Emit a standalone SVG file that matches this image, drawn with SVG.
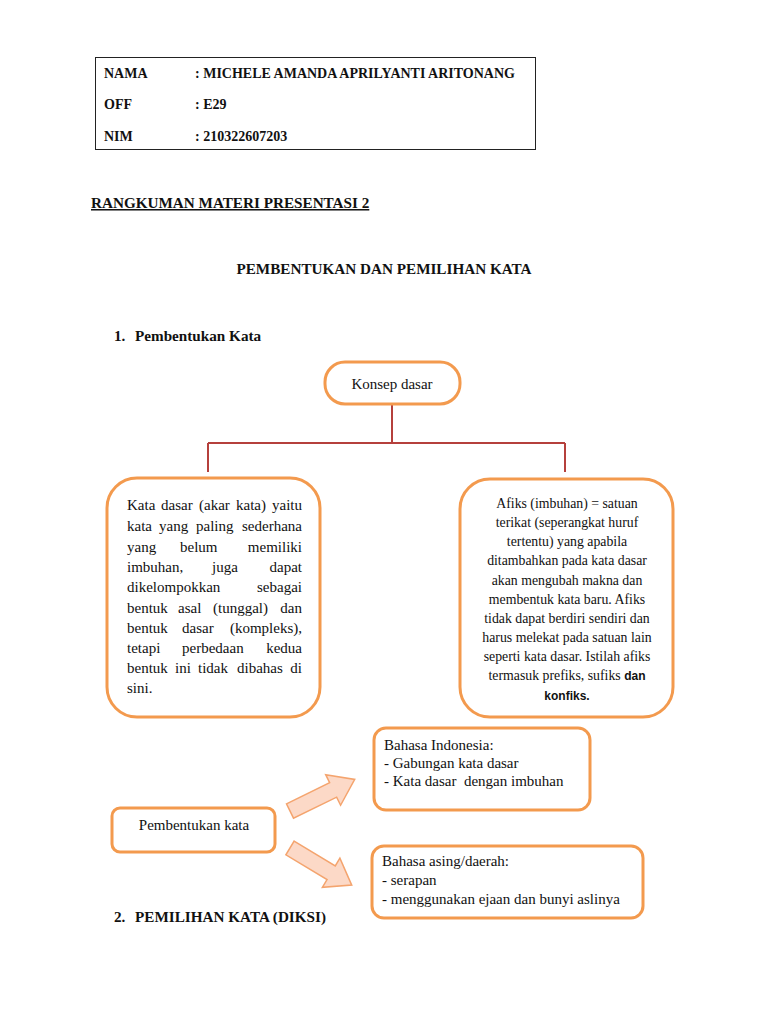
<svg xmlns="http://www.w3.org/2000/svg" width="768" height="1024" viewBox="0 0 768 1024">
<style>
.t{font-family:"Liberation Serif","Times New Roman",serif;fill:#111}
.b{font-weight:bold}
.h{font-size:14px}
.ti{font-size:15.2px}
.n{font-size:15px}
.s{font-size:13.8px}
.e{text-anchor:end}
.box{fill:#fff;stroke:#F39A4E;stroke-width:3}
.conn{fill:none;stroke:#B5403C;stroke-width:2}
.arr{fill:#FCD9C7;stroke:#F4A46E;stroke-width:1.5;stroke-linejoin:miter}
.sb{font-family:"Liberation Sans",Arial,sans-serif;font-weight:bold;font-size:12px}
</style>
<rect width="768" height="1024" fill="#fff"/>
<g id="header">
<rect x="95.5" y="57.5" width="440" height="92" fill="none" stroke="#222" stroke-width="1"/>
<text class="t b h" x="104" y="78">NAMA</text>
<text class="t b h" x="195" y="78">: MICHELE AMANDA APRILYANTI ARITONANG</text>
<text class="t b h" x="104" y="109">OFF</text>
<text class="t b h" x="195" y="109">: E29</text>
<text class="t b h" x="104" y="141">NIM</text>
<text class="t b h" x="195" y="141">: 210322607203</text>
</g>
<g id="titles">
<text class="t b ti" x="91" y="208" text-decoration="underline">RANGKUMAN MATERI PRESENTASI 2</text>
<text class="t b ti" x="384" y="274" text-anchor="middle">PEMBENTUKAN DAN PEMILIHAN KATA</text>
<text class="t b ti" x="114" y="341">1.</text>
<text class="t b ti" x="135" y="341">Pembentukan Kata</text>
<text class="t b ti" x="114" y="922">2.</text>
<text class="t b ti" x="135" y="922">PEMILIHAN KATA (DIKSI)</text>
</g>
<g id="connectors">
<path class="conn" d="M392 404 V443 M208 443 H565 M208 443 V472 M565 443 V472"/>
<polygon class="arr" points="0,-8 48,-8 48,-17 72,0 48,17 48,8 0,8" transform="translate(290,811) rotate(-26)"/>
<polygon class="arr" points="0,-8 48,-8 48,-17 72,0 48,17 48,8 0,8" transform="translate(290,848) rotate(31)"/>
</g>
<g id="konsep">
<rect class="box" x="325" y="362" width="135" height="42" rx="20"/>
<text class="t n" x="392" y="389" text-anchor="middle">Konsep dasar</text>
</g>
<g id="katadasar">
<rect class="box" x="107" y="478" width="213" height="239" rx="30"/>
<g class="t n">
<text x="127" y="510">Kata</text><text x="161" y="510">dasar</text><text x="199" y="510">(akar</text><text x="236" y="510">kata)</text><text class="e" x="302" y="510">yaitu</text>
<text x="127" y="531">kata</text><text x="159" y="531">yang</text><text x="196" y="531">paling</text><text class="e" x="302" y="531">sederhana</text>
<text x="127" y="552">yang</text><text x="180" y="552">belum</text><text class="e" x="302" y="552">memiliki</text>
<text x="127" y="572">imbuhan,</text><text x="212" y="572">juga</text><text class="e" x="302" y="572">dapat</text>
<text x="127" y="592">dikelompokkan</text><text class="e" x="302" y="592">sebagai</text>
<text x="127" y="613">bentuk</text><text x="178" y="613">asal</text><text x="213" y="613">(tunggal)</text><text class="e" x="302" y="613">dan</text>
<text x="127" y="633">bentuk</text><text x="182" y="633">dasar</text><text class="e" x="302" y="633">(kompleks),</text>
<text x="127" y="653">tetapi</text><text x="182" y="653">perbedaan</text><text class="e" x="302" y="653">kedua</text>
<text x="127" y="673">bentuk</text><text x="175" y="673">ini</text><text x="198" y="673">tidak</text><text x="237" y="673">dibahas</text><text class="e" x="302" y="673">di</text>
<text x="127" y="693">sini.</text>
</g>
</g>
<g id="afiks">
<rect class="box" x="460" y="479" width="213" height="238" rx="30"/>
<g class="t s" text-anchor="middle">
<text x="567" y="508">Afiks (imbuhan) = satuan</text>
<text x="567" y="527">terikat (seperangkat huruf</text>
<text x="567" y="546">tertentu) yang apabila</text>
<text x="567" y="565">ditambahkan pada kata dasar</text>
<text x="567" y="584.5">akan mengubah makna dan</text>
<text x="567" y="604">membentuk kata baru. Afiks</text>
<text x="567" y="623">tidak dapat berdiri sendiri dan</text>
<text x="567" y="642">harus melekat pada satuan lain</text>
<text x="567" y="661">seperti kata dasar. Istilah afiks</text>
<text x="567" y="680">termasuk prefiks, sufiks <tspan class="sb">dan</tspan></text>
<text class="sb" x="567" y="700">konfiks.</text>
</g>
</g>
<g id="bahasaindonesia">
<rect class="box" x="374" y="728" width="216" height="82" rx="12"/>
<text class="t n" x="384" y="750">Bahasa Indonesia:</text>
<text class="t n" x="384" y="768">- Gabungan kata dasar</text>
<text class="t n" x="384" y="786" xml:space="preserve">- Kata dasar  dengan imbuhan</text>
</g>
<g id="pembentukankata">
<rect class="box" x="112" y="808" width="163" height="44" rx="8"/>
<text class="t n" x="194" y="830" text-anchor="middle">Pembentukan kata</text>
</g>
<g id="bahasaasing">
<rect class="box" x="372" y="846" width="271" height="72" rx="12"/>
<text class="t n" x="382" y="866">Bahasa asing/daerah:</text>
<text class="t n" x="382" y="885">- serapan</text>
<text class="t n" x="382" y="904">- menggunakan ejaan dan bunyi aslinya</text>
</g>
</svg>
